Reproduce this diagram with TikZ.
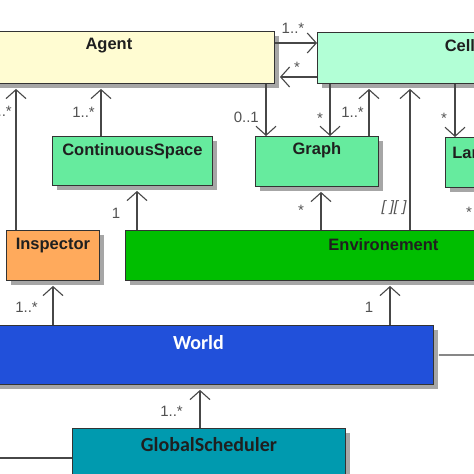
\documentclass[tikz,border=0pt]{standalone}
\usepackage{fontspec}
\setmainfont{Liberation Sans}
\newfontfamily\calibrifont{Carlito}
\usetikzlibrary{arrows.meta, shadows}
\definecolor{agentfill}{HTML}{FFFCD2}
\definecolor{cellfill}{HTML}{B2FFD6}
\definecolor{spacefill}{HTML}{66EB9E}
\definecolor{envfill}{HTML}{00BE00}
\definecolor{inspfill}{HTML}{FFAA5C}
\definecolor{worldfill}{HTML}{2150DA}
\definecolor{gsfill}{HTML}{009AAF}
\tikzset{
  cls/.style={draw=black!80, line width=0.9pt, anchor=north west, inner sep=0pt,
    drop shadow={shadow xshift=5pt, shadow yshift=-5pt, fill=black!35, opacity=1}},
  title/.style={font=\bfseries\fontsize{16.5}{18}\selectfont, text=black!88, inner sep=0pt, anchor=north},
  bigtitle/.style={font=\calibrifont\bfseries\fontsize{20}{22}\selectfont, inner sep=0pt, anchor=north},
  assoc/.style={draw=black!72, line width=1.1pt, -{Straight Barb[length=9pt, width=20pt]}},
  plain/.style={draw=black!72, line width=1.1pt},
  mult/.style={font=\fontsize{15}{17}\selectfont, text=black!68, inner sep=0pt},
}

\begin{document}
\begin{tikzpicture}[x=1pt, y=-1pt]
\useasboundingbox (0, 0) rectangle (474, 474) ;
\clip (0, 0) rectangle (474, 474) ;

\node (agent) at (-57, 31) [cls, fill=agentfill, minimum width=331, minimum height=52,
  label={[title, yshift=-7pt]north:Agent}] {} ;
\node (cell) at (317, 32) [cls, fill=cellfill, minimum width=285, minimum height=51,
  label={[title, yshift=-7pt]north:Cell}] {} ;
\node (cs) at (52, 136) [cls, fill=spacefill, minimum width=160, minimum height=49,
  label={[title, yshift=-7pt]north:ContinuousSpace}] {} ;
\node (graph) at (255, 136) [cls, fill=spacefill, minimum width=123, minimum height=50,
  label={[title, yshift=-6pt]north:Graph}] {} ;
\node (land) at (445, 137) [cls, fill=spacefill, minimum width=100, minimum height=50,
  label={[title, yshift=-9pt]north:Landscape}] {} ;
\node (insp) at (6, 230) [cls, fill=inspfill, minimum width=93, minimum height=50,
  label={[title, yshift=-8pt]north:Inspector}] {} ;
\node (env) at (125, 230) [cls, fill=envfill, minimum width=516, minimum height=50,
  label={[title, yshift=-8pt]north:Environement}] {} ;
\node (world) at (-37, 325) [cls, fill=worldfill, minimum width=470, minimum height=59,
  label={[bigtitle, text=white, yshift=-10pt]north:World}] {} ;
\node (gs) at (72, 428) [cls, fill=gsfill, minimum width=273, minimum height=80,
  label={[bigtitle, text=black!88, yshift=-9pt]north:GlobalScheduler}] {} ;

\coordinate (wout) at (474, 355) ;
\coordinate (gin) at (0, 458) ;

\draw[assoc] ([yshift=-12pt]agent.north east) -- ([yshift=-12pt]agent.north east -| cell.west) ;
\draw[assoc, shorten >=5pt] ([yshift=-46pt]agent.north east -| cell.west) -- ([yshift=-46pt]agent.north east) ;
\draw[assoc, shorten >=5pt] ([xshift=10pt]insp.north west) -- ([xshift=10pt]insp.north west |- agent.south) ;
\draw[assoc, shorten >=5pt] ([xshift=49pt]cs.north west) -- ([xshift=49pt]cs.north west |- agent.south) ;
\draw[assoc] ([xshift=11pt]graph.north west |- agent.south) -- ([xshift=11pt]graph.north west) ;
\draw[assoc] ([xshift=75pt]graph.north west |- cell.south) -- ([xshift=75pt]graph.north west) ;
\draw[assoc, shorten >=5pt] ([xshift=114pt]graph.north west) -- ([xshift=114pt]graph.north west |- cell.south) ;
\draw[assoc] ([xshift=10pt]land.north west |- cell.south) -- ([xshift=10pt]land.north west) ;
\draw[assoc, shorten >=5pt] ([xshift=285pt]env.north west) -- ([xshift=285pt]env.north west |- cell.south) ;
\draw[assoc, shorten >=5pt] ([xshift=12pt]env.north west) -- ([xshift=12pt]env.north west |- cs.south) ;
\draw[assoc, shorten >=5pt] ([xshift=196pt]env.north west) -- ([xshift=196pt]env.north west |- graph.south) ;
\draw[assoc, shorten >=5pt] ([xshift=47pt]insp.south west |- world.north) -- ([xshift=47pt]insp.south west) ;
\draw[assoc, shorten >=5pt] ([xshift=265pt]env.south west |- world.north) -- ([xshift=265pt]env.south west) ;
\draw[assoc, shorten >=5pt] ([xshift=128pt]gs.north west) -- ([xshift=128pt]gs.north west |- world.south) ;
\draw[plain] ([xshift=5pt]world.east) -- (wout) ;
\draw[plain] (gin) -- (gin -| gs.west) ;

\node (m1) at (12, 111) [mult, anchor=east] {1..*} ;
\node (m2) at (95, 112) [mult, anchor=east] {1..*} ;
\node (m3) at (259, 117) [mult, anchor=east] {0..1} ;
\node (m4) at (320, 118) [mult] {*} ;
\node (m5) at (364, 112) [mult, anchor=east] {1..*} ;
\node (m6) at (394, 208) [mult] {\itshape [ ][ ]} ;
\node (m7) at (444, 118) [mult] {*} ;
\node (m8) at (469, 212) [mult] {*} ;
\node (m9) at (116, 213) [mult] {1} ;
\node (m10) at (301, 210) [mult] {*} ;
\node (m11) at (38, 307) [mult, anchor=east] {1..*} ;
\node (m12) at (369, 307) [mult] {1} ;
\node (m13) at (183, 411) [mult, anchor=east] {1..*} ;
\node (m14) at (293, 28) [mult] {1..*} ;
\node (m15) at (297, 67) [mult] {*} ;
\end{tikzpicture}
\end{document}
